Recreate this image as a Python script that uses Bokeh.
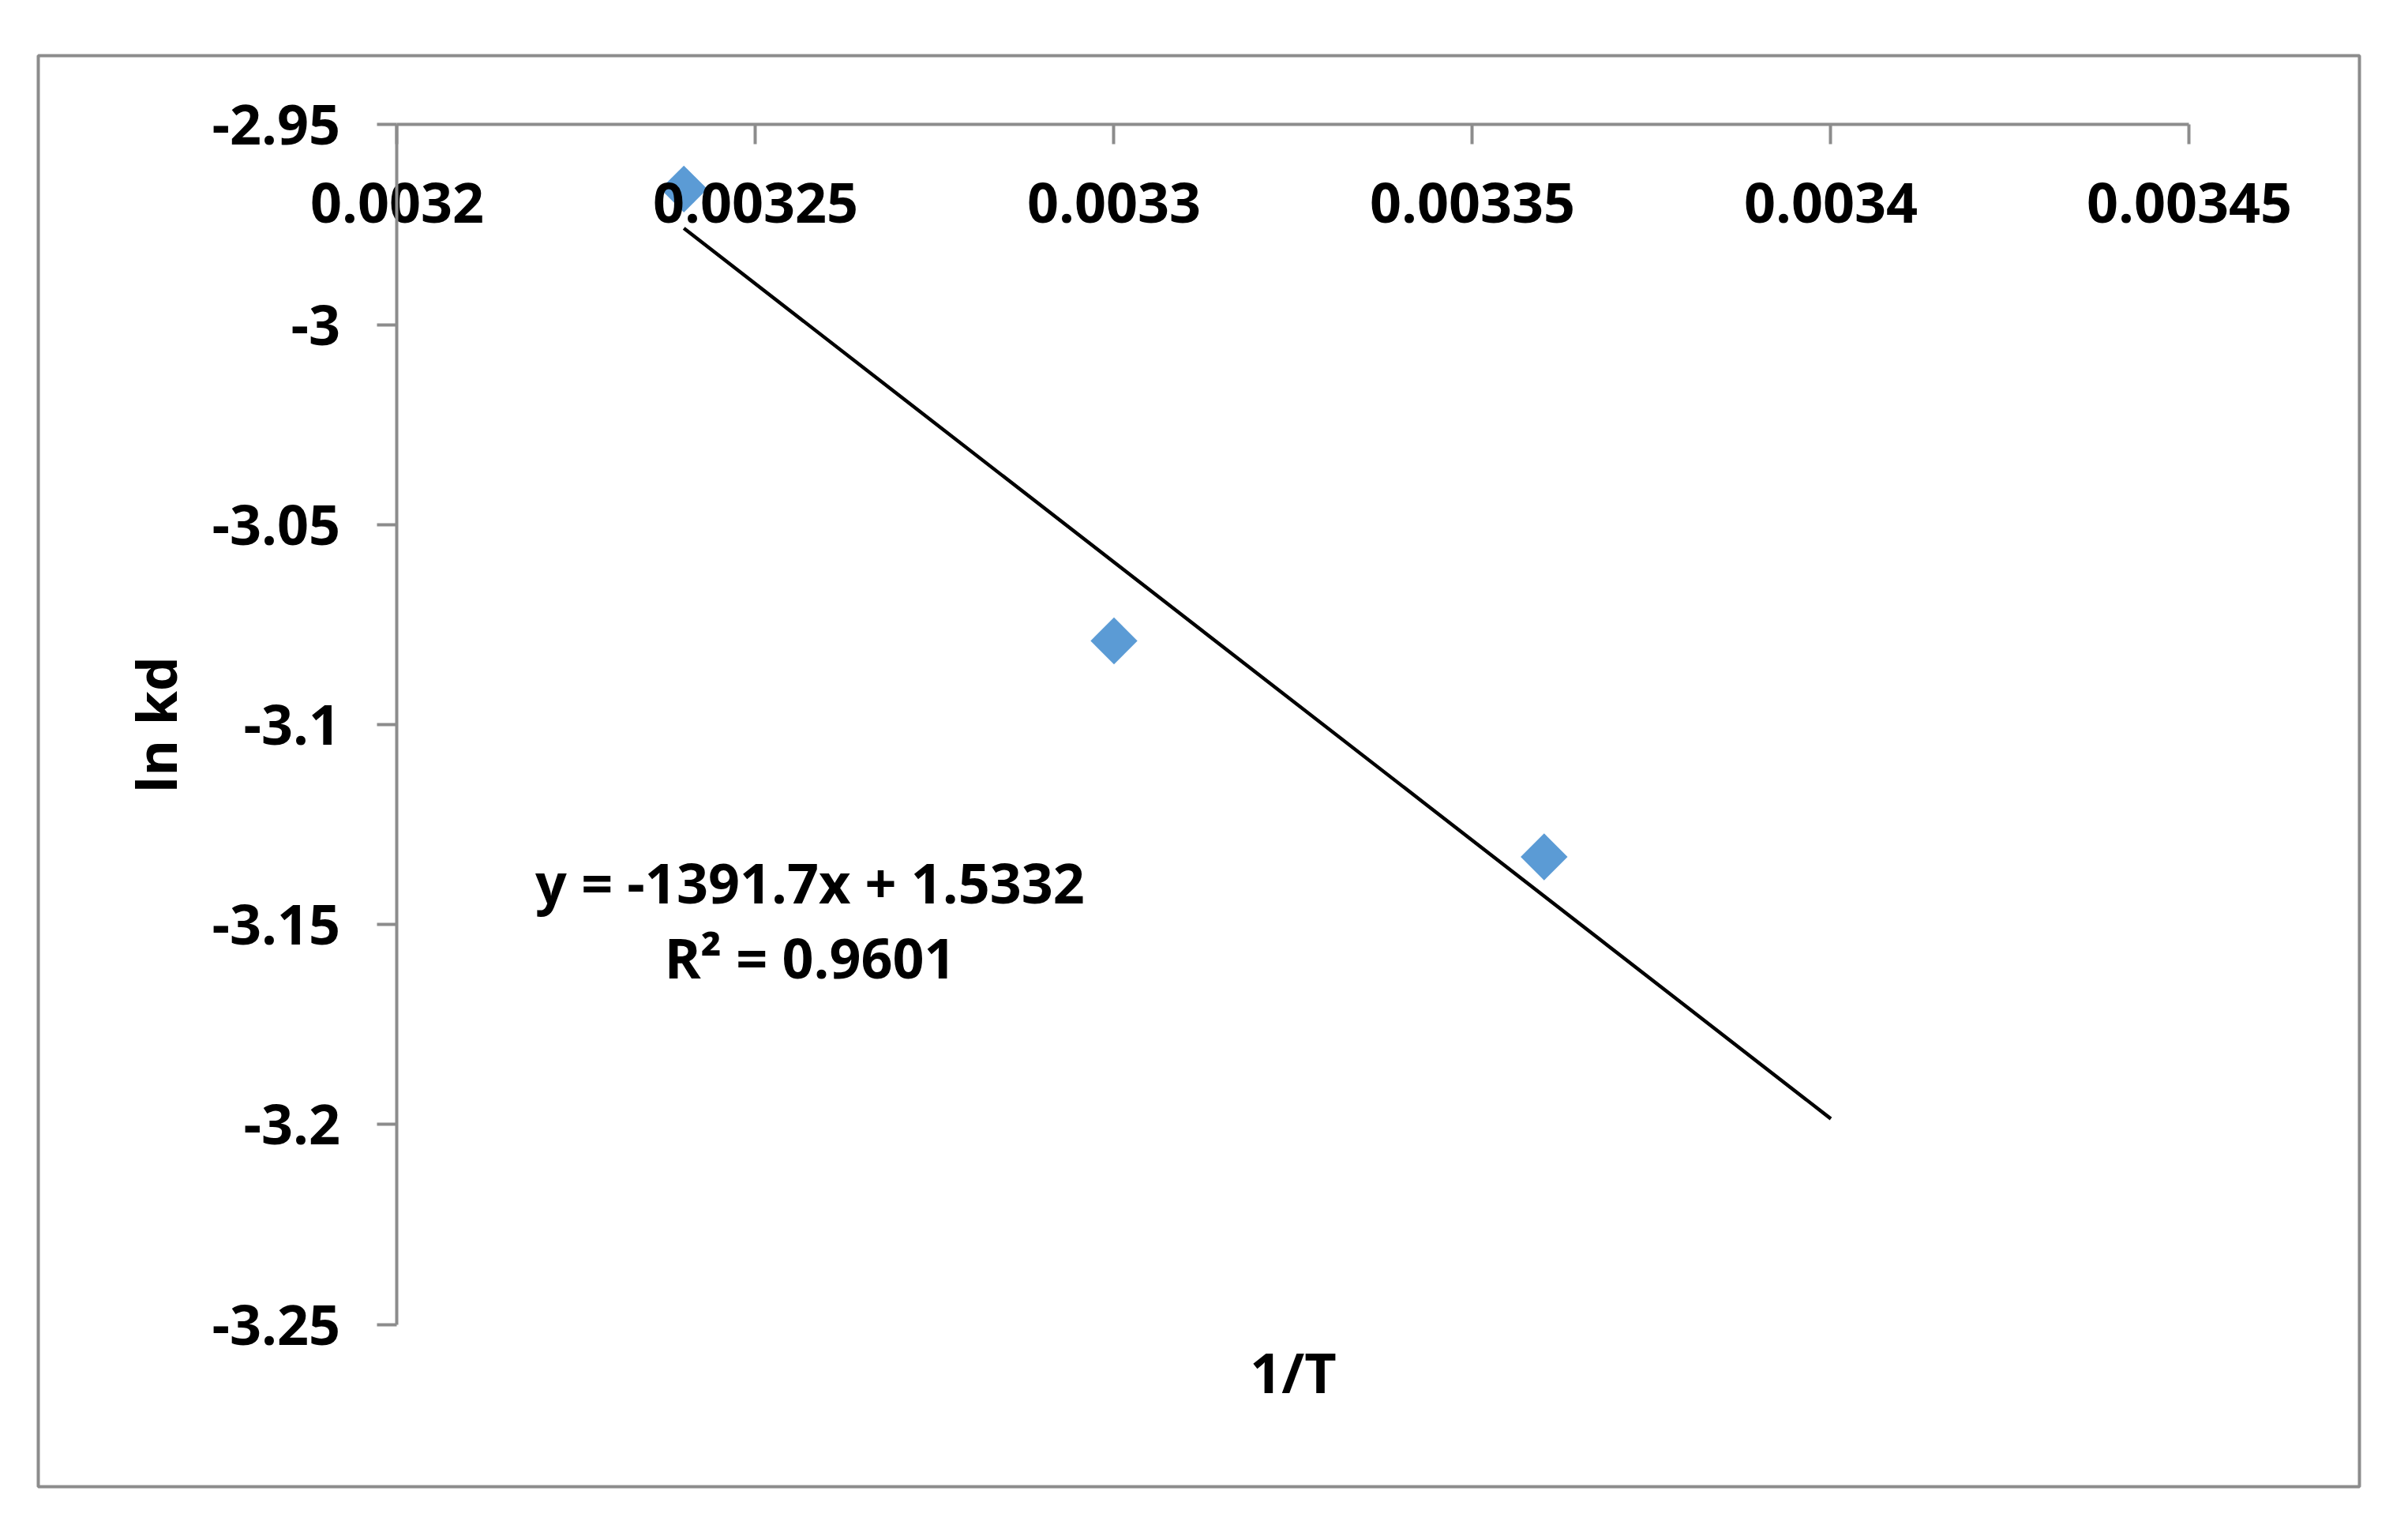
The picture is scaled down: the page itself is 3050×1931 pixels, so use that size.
import numpy as np
from bokeh.plotting import figure
from bokeh.models import Range1d, LinearAxis, FixedTicker, Label
from bokeh.embed import file_html
from bokeh.resources import INLINE

# ---- data ----
inv_T = [0.00324, 0.0033, 0.00336]
ln_kd = [-2.9661, -3.0791, -3.1331]
trend_slope = -1391.7
trend_intercept = 1.5332
trend_x = [0.00324, 0.0034]
x_ticks = [0.0032, 0.00325, 0.0033, 0.00335, 0.0034, 0.00345]
x_tick_labels = ["0.0032", "0.00325", "0.0033", "0.00335", "0.0034", "0.00345"]
y_ticks = [-2.95, -3.0, -3.05, -3.1, -3.15, -3.2, -3.25]
y_tick_labels = ["-2.95", "-3", "-3.05", "-3.1", "-3.15", "-3.2", "-3.25"]
equation_text = "y = -1391.7x + 1.5332"
r2_text = "R\u00b2 = 0.9601"
x_title = "1/T"
y_title = "ln kd"

trend_y = [trend_slope * v + trend_intercept for v in trend_x]

GRAY = "#8c8c8c"
FONT = "Open Sans"
FS = "70px"

p = figure(
    frame_width=2940, frame_height=1812,
    min_border_left=48, min_border_top=70, min_border_right=20, min_border_bottom=20,
    x_range=Range1d(0.003149945, 0.003473735),
    y_range=Range1d(-3.29058, -2.93276),
    x_axis_location=None, y_axis_location=None,
    toolbar_location=None, output_backend="svg",
    background_fill_color="white", border_fill_color="white",
)
p.xgrid.visible = False
p.ygrid.visible = False
p.outline_line_color = GRAY
p.outline_line_width = 4

def style_axis(ax):
    ax.axis_line_color = GRAY
    ax.axis_line_width = 4
    ax.major_tick_line_color = GRAY
    ax.major_tick_line_width = 4
    ax.major_tick_out = 25
    ax.major_tick_in = 0
    ax.minor_tick_out = 0
    ax.minor_tick_in = 0
    ax.minor_tick_line_color = None
    ax.major_label_text_font = FONT
    ax.major_label_text_font_size = FS
    ax.major_label_text_font_style = "bold"
    ax.major_label_text_color = "black"

xaxis = LinearAxis(
    fixed_location=y_ticks[0],
    bounds=(x_ticks[0], x_ticks[-1]),
    ticker=FixedTicker(ticks=x_ticks),
    major_label_overrides=dict(zip(x_ticks, x_tick_labels)),
)
style_axis(xaxis)
xaxis.major_label_standoff = 48
p.add_layout(xaxis, "below")

yaxis = LinearAxis(
    fixed_location=x_ticks[0],
    bounds=(y_ticks[-1], y_ticks[0]),
    ticker=FixedTicker(ticks=y_ticks),
    major_label_overrides=dict(zip(y_ticks, y_tick_labels)),
    axis_label=y_title,
)
style_axis(yaxis)
yaxis.major_label_standoff = 47
yaxis.axis_label_text_font = FONT
yaxis.axis_label_text_font_size = FS
yaxis.axis_label_text_font_style = "bold"
yaxis.axis_label_text_color = "black"
yaxis.axis_label_standoff = 20
p.add_layout(yaxis, "left")

p.line(trend_x, trend_y, line_color="black", line_width=4.5)
p.scatter(inv_T, ln_kd, marker="square", size=42, angle=np.pi / 4,
          fill_color="#5b9bd5", line_color=None)

def add_label(x, y, text):
    p.add_layout(Label(x=x, y=y, text=text, text_align="center",
                       text_baseline="alphabetic", text_font=FONT,
                       text_font_size=FS, text_font_style="bold",
                       text_color="black"))

add_label(0.0032576, -3.1394, equation_text)
add_label(0.0032576, -3.1581, r2_text)
add_label(0.003325, -3.2618, x_title)

open("out.html", "w").write(file_html(p, INLINE))
